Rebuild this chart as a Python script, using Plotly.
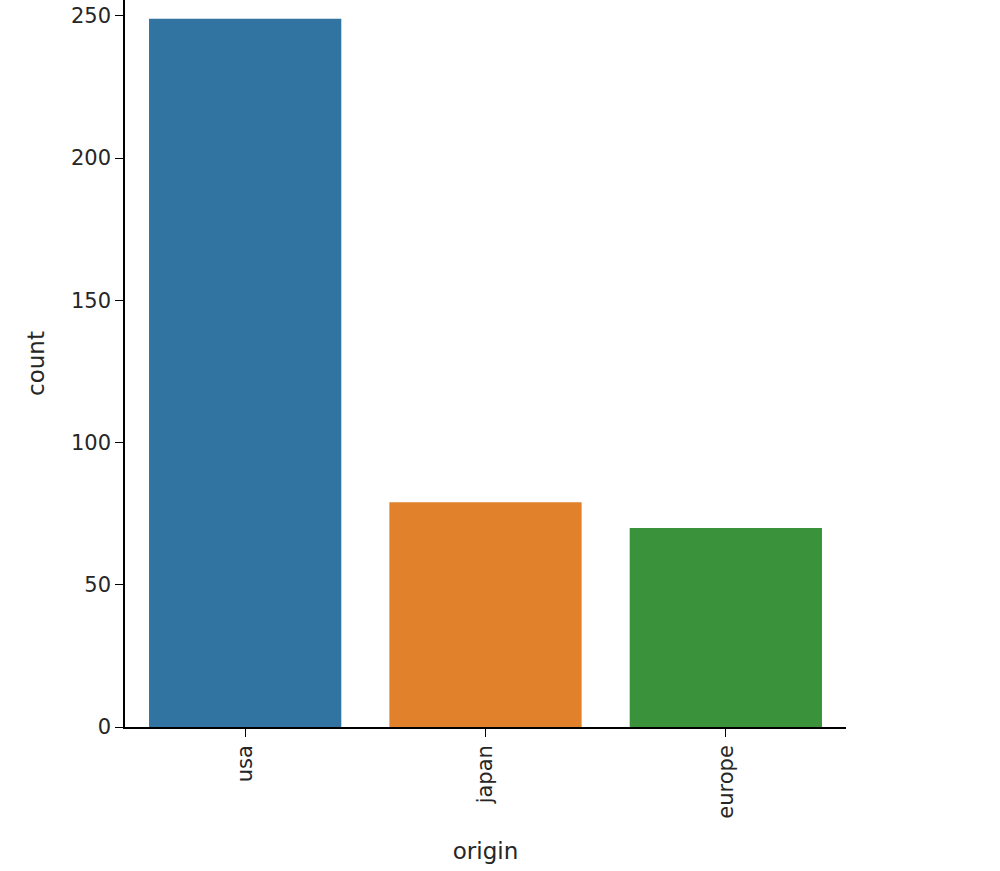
import plotly.graph_objects as go

# Count of cars by origin
origins = ["usa", "japan", "europe"]
counts = [249, 79, 70]
colors = ["#3274A1", "#E1812C", "#3A923A"]

fig = go.Figure()

fig.add_trace(
    go.Bar(
        x=origins,
        y=counts,
        marker=dict(color=colors, line=dict(width=0)),
        width=0.8,
        showlegend=False,
    )
)

fig.update_layout(
    width=1000,
    height=871,
    paper_bgcolor="white",
    plot_bgcolor="white",
    margin=dict(l=125, r=154, t=0, b=144),
    font=dict(family="DejaVu Sans", size=21, color="#262626"),
)

fig.update_xaxes(
    title_text="origin",
    title_font_size=23,
    title_standoff=25,
    range=[-0.5, 2.5],
    automargin=False,
    showline=True,
    linecolor="black",
    linewidth=1.5,
    ticks="outside",
    ticklen=8,
    tickcolor="black",
    tickfont_size=21,
    tickangle=-90,
    showgrid=False,
    zeroline=False,
)

fig.update_yaxes(
    title_text="count",
    title_font_size=23,
    title_standoff=20,
    range=[0, 255.6],
    tickvals=[0, 50, 100, 150, 200, 250],
    ticklabeloverflow="allow",
    automargin=False,
    showline=True,
    linecolor="black",
    linewidth=1.5,
    ticks="outside",
    ticklen=8,
    tickcolor="black",
    tickfont_size=21,
    showgrid=False,
    zeroline=False,
)

# drop the default page margin so the figure sits at the top-left corner
fig.write_html(
    "out.html",
    config={"displayModeBar": False},
    post_script="document.body.style.margin = '0';",
)
